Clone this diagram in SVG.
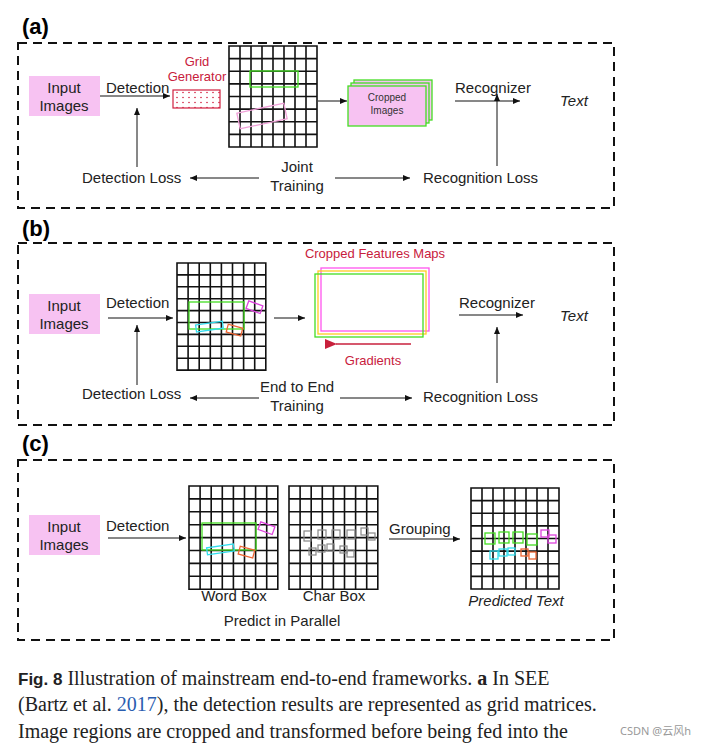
<svg xmlns="http://www.w3.org/2000/svg" width="709" height="747" viewBox="0 0 709 747">
<style>
.t{font-family:"Liberation Sans",Arial,sans-serif;font-size:15px;fill:#222}
.r{font-family:"Liberation Sans",Arial,sans-serif;font-size:13px;fill:#c8203c}
.h{font-family:"Liberation Sans",Arial,sans-serif;font-size:22px;font-weight:bold;fill:#000}
.frame{fill:none;stroke:#111;stroke-width:2;stroke-dasharray:9,6}
.pk{fill:#f7c2f2}
.c{font-family:"Liberation Serif","Times New Roman",serif;font-size:20px;fill:#222}
.a{stroke:#111;stroke-width:1;fill:none;marker-end:url(#ah)}
.gl{stroke:#111;stroke-width:1.6;fill:none;vector-effect:non-scaling-stroke}
</style>
<defs>
<marker id="ah" markerWidth="8" markerHeight="8" refX="7" refY="4" orient="auto" markerUnits="userSpaceOnUse"><path d="M0,1 L7,4 L0,7z" fill="#111"/></marker>
<marker id="rh" markerWidth="12" markerHeight="10" refX="1" refY="5" orient="auto" markerUnits="userSpaceOnUse"><path d="M12,0 L0,5 L12,10z" fill="#c8203c"/></marker>
<path id="g88" class="gl" d="M0,0H8V8H0Z M1,0V8 M2,0V8 M3,0V8 M4,0V8 M5,0V8 M6,0V8 M7,0V8 M0,1H8 M0,2H8 M0,3H8 M0,4H8 M0,5H8 M0,6H8 M0,7H8"/>
<path id="g89" class="gl" d="M0,0H8V9H0Z M1,0V9 M2,0V9 M3,0V9 M4,0V9 M5,0V9 M6,0V9 M7,0V9 M0,1H8 M0,2H8 M0,3H8 M0,4H8 M0,5H8 M0,6H8 M0,7H8 M0,8H8"/>
<pattern id="dots" width="6" height="5" patternUnits="userSpaceOnUse"><circle cx="3" cy="2.5" r="0.8" fill="#d02040"/></pattern>
</defs>

<g id="panel-a">
<rect class="frame" x="18" y="43" width="596" height="165"/>
<text class="h" x="22" y="34">(a)</text>
<rect class="pk" x="29" y="76" width="71" height="40"/>
<text class="t" x="64" y="93" text-anchor="middle">Input</text>
<text class="t" x="64" y="111" text-anchor="middle">Images</text>
<text class="t" x="106" y="93">Detection</text>
<text class="r" x="197" y="66" text-anchor="middle">Grid</text>
<text class="r" x="197" y="81" text-anchor="middle">Generator</text>
<rect x="173" y="90" width="47" height="18" fill="url(#dots)" stroke="#d02040" stroke-width="1.2"/>
<use href="#g88" transform="translate(229,46) scale(11,12.625)"/>
<rect x="250" y="71" width="48" height="16" fill="none" stroke="#44dd22" stroke-width="1.3"/>
<rect x="238" y="108" width="48" height="16" fill="none" stroke="#f0a0d8" stroke-width="1.3" transform="rotate(-12 262 116)"/>
<rect x="354" y="80" width="78" height="40" fill="#f7c2f2" stroke="#44dd22" stroke-width="1.3"/>
<rect x="351" y="83" width="78" height="40" fill="#f7c2f2" stroke="#44dd22" stroke-width="1.3"/>
<rect x="348" y="86" width="78" height="40" fill="#f7c2f2" stroke="#44dd22" stroke-width="1.3"/>
<text x="387" y="101" text-anchor="middle" style="font-family:'Liberation Sans',Arial,sans-serif;font-size:10px;fill:#333">Cropped</text>
<text x="387" y="114" text-anchor="middle" style="font-family:'Liberation Sans',Arial,sans-serif;font-size:10px;fill:#333">Images</text>
<text class="t" x="455" y="93">Recognizer</text>
<text class="t" x="560" y="106" style="font-style:italic">Text</text>
<text class="t" x="82" y="183">Detection Loss</text>
<text class="t" x="297" y="172" text-anchor="middle">Joint</text>
<text class="t" x="297" y="191" text-anchor="middle">Training</text>
<text class="t" x="423" y="183">Recognition Loss</text>
</g>

<g id="panel-b">
<rect class="frame" x="18" y="243" width="596" height="182"/>
<text class="h" x="22" y="236">(b)</text>
<rect class="pk" x="29" y="294" width="71" height="40"/>
<text class="t" x="64" y="311" text-anchor="middle">Input</text>
<text class="t" x="64" y="329" text-anchor="middle">Images</text>
<text class="t" x="106" y="308">Detection</text>
<use href="#g89" transform="translate(177,263) scale(11.1,11.9)"/>
<rect x="189" y="302" width="55" height="27" fill="none" stroke="#44dd22" stroke-width="1.3"/>
<rect x="196" y="323" width="27" height="7" fill="none" stroke="#33ddee" stroke-width="1.3" transform="rotate(-8 210 327)"/>
<rect x="227" y="326" width="15" height="8" fill="none" stroke="#ee6633" stroke-width="1.3" transform="rotate(15 234 330)"/>
<rect x="247" y="303" width="15" height="8" fill="none" stroke="#dd44dd" stroke-width="1.3" transform="rotate(20 254 307)"/>
<rect x="321" y="268" width="108" height="63" fill="none" stroke="#ff55ee" stroke-width="1.3"/>
<rect x="318" y="271" width="108" height="63" fill="none" stroke="#ffcc22" stroke-width="1.3"/>
<rect x="315" y="274" width="108" height="63" fill="none" stroke="#44dd22" stroke-width="1.3"/>
<text class="r" x="375" y="258" text-anchor="middle">Cropped Features Maps</text>
<line x1="411" y1="344" x2="336" y2="344" stroke="#c8203c" stroke-width="1.5" marker-end="url(#rh)"/>
<text class="r" x="373" y="365" text-anchor="middle">Gradients</text>
<text class="t" x="459" y="308">Recognizer</text>
<text class="t" x="560" y="321" style="font-style:italic">Text</text>
<text class="t" x="82" y="399">Detection Loss</text>
<text class="t" x="297" y="392" text-anchor="middle">End to End</text>
<text class="t" x="297" y="411" text-anchor="middle">Training</text>
<text class="t" x="423" y="402">Recognition Loss</text>
</g>

<g id="panel-c">
<rect class="frame" x="18" y="460" width="596" height="180"/>
<text class="h" x="22" y="451">(c)</text>
<rect class="pk" x="29" y="515" width="71" height="40"/>
<text class="t" x="64" y="532" text-anchor="middle">Input</text>
<text class="t" x="64" y="550" text-anchor="middle">Images</text>
<text class="t" x="106" y="531">Detection</text>
<use href="#g88" transform="translate(189,486) scale(11.1,12.9)"/>
<rect x="202" y="523" width="54" height="27" fill="none" stroke="#44dd22" stroke-width="1.3"/>
<rect x="207" y="546" width="27" height="7" fill="none" stroke="#33ddee" stroke-width="1.3" transform="rotate(-8 220 550)"/>
<rect x="239" y="548" width="15" height="8" fill="none" stroke="#ee6633" stroke-width="1.3" transform="rotate(15 246 552)"/>
<rect x="259" y="524" width="15" height="8" fill="none" stroke="#dd44dd" stroke-width="1.3" transform="rotate(20 266 528)"/>
<text class="t" x="234" y="601" text-anchor="middle">Word Box</text>
<use href="#g88" transform="translate(289,486) scale(11.1,12.9)"/>
<g fill="none" stroke="#888" stroke-width="1.2">
<rect x="304" y="531" width="7" height="10"/><rect x="318" y="530" width="8" height="9"/><rect x="332" y="530" width="8" height="9"/><rect x="347" y="530" width="8" height="9"/><rect x="361" y="528" width="7" height="7"/><rect x="368" y="533" width="7" height="7"/>
<rect x="309" y="548" width="7" height="7"/><rect x="318" y="545" width="7" height="7"/><rect x="327" y="544" width="7" height="7"/><rect x="340" y="546" width="7" height="7"/><rect x="347" y="550" width="7" height="7"/>
</g>
<text class="t" x="334" y="601" text-anchor="middle">Char Box</text>
<text class="t" x="389" y="534">Grouping</text>
<use href="#g88" transform="translate(471,488) scale(11,12.625)"/>
<g fill="none" stroke-width="1.3">
<rect x="485" y="533" width="10" height="11" stroke="#44dd22"/><rect x="499" y="532" width="10" height="11" stroke="#44dd22"/><rect x="513" y="532" width="10" height="11" stroke="#44dd22"/><rect x="527" y="534" width="10" height="11" stroke="#44dd22"/>
<rect x="541" y="530" width="8" height="7" stroke="#dd44dd"/><rect x="548" y="535" width="8" height="8" stroke="#dd44dd"/>
<rect x="490" y="551" width="8" height="8" stroke="#33ddee"/><rect x="499" y="549" width="8" height="7" stroke="#33ddee"/><rect x="508" y="548" width="7" height="7" stroke="#33ddee"/>
<rect x="521" y="549" width="7" height="7" stroke="#ee6633"/><rect x="529" y="552" width="7" height="7" stroke="#ee6633"/>
</g>
<text class="t" x="516" y="606" text-anchor="middle" style="font-style:italic">Predicted Text</text>
<text class="t" x="282" y="626" text-anchor="middle">Predict in Parallel</text>
</g>

<g id="connectors">
<line class="a" x1="100" y1="96" x2="170" y2="96"/>
<line class="a" x1="318" y1="101" x2="347" y2="101"/>
<line class="a" x1="455" y1="101" x2="520" y2="101"/>
<line class="a" x1="137" y1="167" x2="137" y2="108"/>
<line class="a" x1="259" y1="178" x2="190" y2="178"/>
<line class="a" x1="335" y1="178" x2="410" y2="178"/>
<line class="a" x1="497" y1="166" x2="497" y2="94"/>
<line class="a" x1="108" y1="318" x2="173" y2="318"/>
<line class="a" x1="274" y1="318" x2="305" y2="318"/>
<line class="a" x1="459" y1="315" x2="523" y2="315"/>
<line class="a" x1="137" y1="385" x2="137" y2="325"/>
<line class="a" x1="259" y1="398" x2="190" y2="398"/>
<line class="a" x1="340" y1="398" x2="412" y2="398"/>
<line class="a" x1="497" y1="383" x2="497" y2="327"/>
<line class="a" x1="108" y1="538" x2="186" y2="538"/>
<line class="a" x1="389" y1="539" x2="460" y2="539"/>
</g>

<g id="caption">
<text class="c" x="18" y="685"><tspan font-weight="bold" font-family="Liberation Sans,Arial,sans-serif" font-size="17">Fig. 8</tspan>  Illustration of mainstream end-to-end frameworks. <tspan font-weight="bold">a</tspan> In SEE</text>
<text class="c" x="18" y="711">(Bartz et al. <tspan fill="#2a5db0">2017</tspan>), the detection results are represented as grid matrices.</text>
<text class="c" x="18" y="738">Image regions are cropped and transformed before being fed into the</text>
<text x="620" y="735" style="font-family:'Noto Sans','Noto Sans CJK SC',sans-serif;font-size:11px;fill:#999">CSDN @云风h</text>
</g>
</svg>
